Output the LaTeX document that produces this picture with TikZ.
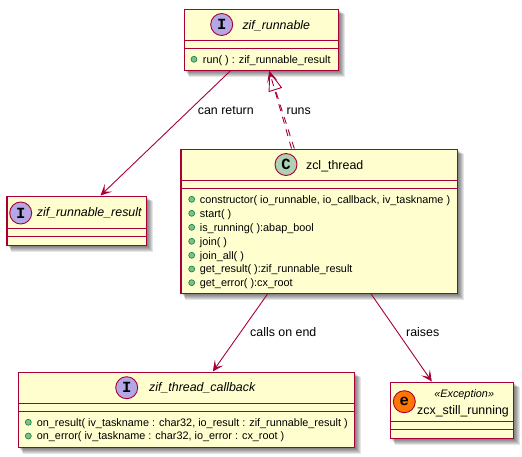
\documentclass[tikz,border=0pt]{standalone}
\usepackage{fontspec}
\setmainfont{Liberation Sans}
\setmonofont{Liberation Mono}
\usetikzlibrary{arrows.meta,calc}
\definecolor{pred}{HTML}{A80036}
\definecolor{pfill}{HTML}{FEFECE}
\definecolor{iface}{HTML}{B4A7E5}
\definecolor{cls}{HTML}{ADD1B2}
\definecolor{exc}{HTML}{FF7700}
\definecolor{pub}{HTML}{84BE84}
\definecolor{pubd}{HTML}{038048}
\tikzset{
  x=1pt,y=1pt,
  umlbox/.style={draw=pred,line width=1.45pt,fill=pfill,rectangle,inner sep=0pt,anchor=north west},
  shadowlayer/.style={fill=black,opacity=.1,draw=none},
  badge/.style={circle,draw=pred,line width=.9pt,minimum size=22pt,inner sep=0pt,font=\fontsize{15.5}{15}\ttfamily\bfseries},
  namelbl/.style={inner sep=0pt,anchor=base,font=\fontsize{12.4}{14}\selectfont},
  inamelbl/.style={inner sep=0pt,anchor=base,font=\fontsize{12.4}{14}\itshape},
  member/.style={inner sep=0pt,anchor=base west,font=\fontsize{10.85}{13}\selectfont},
  pubdot/.style={circle,draw=pubd,fill=pub,line width=.6pt,minimum size=6pt,inner sep=0pt},
  edgelbl/.style={inner sep=0pt,anchor=base west,font=\fontsize{12.4}{14}\selectfont},
  rel/.style={draw=pred,line width=.9pt,-{Stealth[length=11pt,width=10.5pt,inset=5.5pt,fill=pred]}},
  sep/.style={draw=pred,line width=1.3pt},
  dashrel/.style={draw=pred,line width=.9pt,dash pattern=on 7pt off 6pt},
}
% name, x, y, width, height: soft shadow, then the box
\newcommand{\classbox}[5]{%
  \foreach \k in {1,...,7}{%
    \fill[shadowlayer] ({#2+1+\k*.6},{-#3-1-\k*.6}) rectangle ({#2+#4+\k},{-#3-#5-\k});}%
  \node[umlbox,minimum width=#4,minimum height=#5] (#1) at (#2,-#3) {};}
\newcommand{\seplines}[3]{%
  \draw[sep] (#1.west |- 0,-#2) -- (#1.east |- 0,-#2);
  \draw[sep] (#1.west |- 0,-#3) -- (#1.east |- 0,-#3);}
\begin{document}
\begin{tikzpicture}
\useasboundingbox (0,0) rectangle (522,-456);
% boxes
\classbox{runnable}{183.5}{8.5}{154.5}{61}
\classbox{thread}{180.2}{148.5}{276.8}{144}
\classbox{result}{6.2}{195.5}{139.3}{49}
\classbox{callback}{17.5}{371.5}{336.5}{75}
\classbox{still}{389.5}{381.5}{123}{56}
\seplines{runnable}{40.5}{48.5}
\seplines{thread}{180.5}{188.5}
\seplines{result}{228.5}{236.5}
\seplines{callback}{403.5}{411.5}
\seplines{still}{421.5}{429.5}
% badges
\node[badge,fill=iface] (b1) at (221.7,-24.5) {I};
\node[badge,fill=cls] (b2) at (286,-164.5) {C};
\node[badge,fill=iface] (b3) at (20.7,-213) {I};
\node[badge,fill=iface] (b4) at (126.7,-387.7) {I};
\node[badge,fill=exc] (b5) at (404.3,-401.7) {e};
% names
\node[inamelbl] (n1) at (276.3,-29) {zif\_runnable};
\node[namelbl] (n2) at (334.7,-169) {zcl\_thread};
\node[inamelbl] (n3) at (89.2,-216.7) {zif\_runnable\_result};
\node[inamelbl] (n4) at (202.2,-391.7) {zif\_thread\_callback};
\node[inner sep=0pt,anchor=base,font=\fontsize{10.85}{13}\itshape] (n5) at (464.2,-397.7) {«Exception»};
\node[namelbl] (n6) at (463,-414) {zcx\_still\_running};
% members
\node[pubdot] (d1) at (194,-59.3) {};
\node[member] (m1) at (202.7,-63.2) {run( ) : zif\_runnable\_result};
\foreach \i/\y/\t in {2/199.3/{constructor( io\_runnable, io\_callback, iv\_taskname )},3/213.3/{start( )},4/227.3/{is\_running( ):abap\_bool},5/241.3/{join( )},6/255.3/{join\_all( )},7/269/{get\_result( ):zif\_runnable\_result},8/282.7/{get\_error( ):cx\_root}}{
  \node[pubdot] (d\i) at (191.7,-\y) {};
  \node[member] (m\i) at (199.7,-\y-3.9) {\t};
}
\node[pubdot] (d9) at (28.3,-422.3) {};
\node[member] (m9) at (36.7,-426.2) {on\_result( iv\_taskname : char32, io\_result : zif\_runnable\_result )};
\node[pubdot] (d10) at (28.3,-436) {};
\node[member] (m10) at (36.7,-439.9) {on\_error( iv\_taskname : char32, io\_error : cx\_root )};
% connector end points
\coordinate (c1s) at ($(runnable.south west)!.30!(runnable.south east)$);
\coordinate (c1e) at ($(result.north west)!.67!(result.north east)$);
\coordinate (c2s) at ($(thread.south west)!.314!(thread.south east)$);
\coordinate (c2e) at ($(callback.north west)!.578!(callback.north east)$);
\coordinate (c3s) at ($(thread.south west)!.686!(thread.south east)$);
\coordinate (c3e) at ($(still.north west)!.34!(still.north east)$);
\coordinate (c4s) at ($(thread.north west)!.41!(thread.north east)$);
\coordinate (c4e) at ($(runnable.south west)!.55!(runnable.south east)$);
\coordinate (c5s) at ($(thread.north west)!.40!(thread.north east)$);
\coordinate (c5e) at ($(runnable.south west)!.55!(runnable.south east)$);
% connectors
\draw[rel] (c1s) -- (c1e);
\draw[rel] (c2s) -- (c2e);
\draw[rel] (c3s) -- (c3e);
\draw[dashrel,-{Triangle[open,length=20pt,width=14pt,fill=white,line width=.9pt]}] (c4s) -- (c4e);
\draw[dashrel,-{Stealth[length=11pt,width=10.5pt,inset=5.5pt,fill=pred]}] (c5s) -- (c5e);
% labels
\node[edgelbl] (l1) at (197.7,-114) {can return};
\node[edgelbl] (l2) at (286.5,-114) {runs};
\node[edgelbl] (l3) at (250,-336) {calls on end};
\node[edgelbl] (l4) at (406,-336) {raises};
\end{tikzpicture}
\end{document}
